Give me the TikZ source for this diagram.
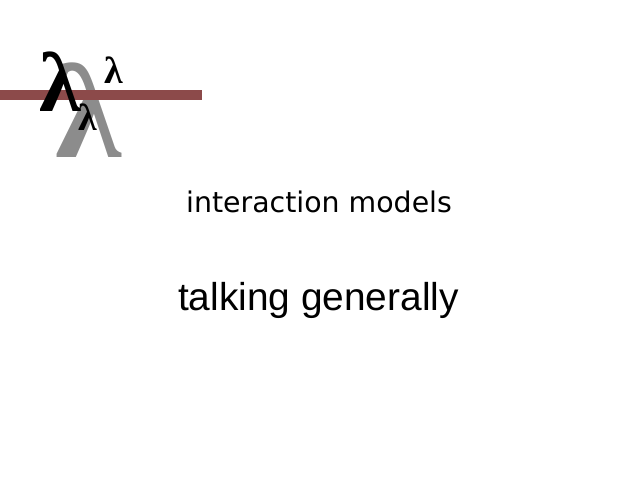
\documentclass[tikz,border=0pt]{standalone}
\usepackage{fontspec}
\setmainfont{Liberation Serif}
\newfontfamily\lsans{Liberation Sans}
\newfontfamily\dsans{DejaVu Sans}
\definecolor{barred}{HTML}{8C4A4A}
\definecolor{lgrey}{HTML}{8C8C8C}
\begin{document}
\begin{tikzpicture}[x=1bp,y=-1bp,lam/.style={inner sep=0pt,anchor=center}]
\useasboundingbox (0,0) rectangle (638,478);
\node[lam,text=lgrey,font=\bfseries\fontsize{135}{135}\selectfont] (g) at (89,110) {λ};
\fill[barred] (0,90) rectangle (202,100);
\node[lam,font=\bfseries\fontsize{85}{85}\selectfont] (b) at (60,82) {λ};
\node[lam,font=\bfseries\fontsize{38}{38}\selectfont] (s1) at (114,70) {λ};
\node[lam,font=\bfseries\fontsize{38}{38}\selectfont] (s2) at (88,117) {λ};
\node[inner sep=0pt,anchor=base,font=\dsans\fontsize{28.5}{28.5}\selectfont] (t1) at (319,213) {interaction models};
\node[inner sep=0pt,anchor=base,font=\lsans\fontsize{39}{39}\selectfont] (t2) at (318.5,310) {talking generally};
\end{tikzpicture}
\end{document}
